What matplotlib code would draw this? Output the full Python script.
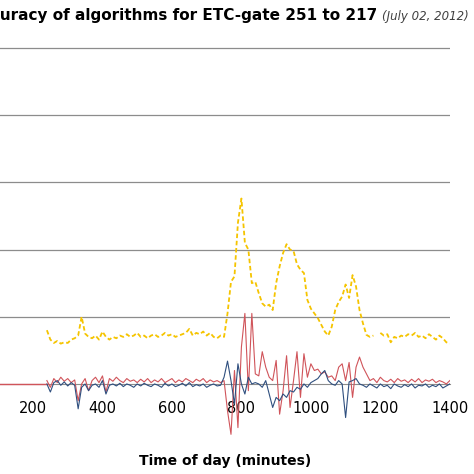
import numpy as np
import matplotlib
matplotlib.use("Agg")
import matplotlib.pyplot as plt

start, step = 240, 10
yellow = [0.80,0.66,0.61,0.64,0.60,0.62,0.61,0.66,0.68,0.72,
          1.00,0.75,0.70,0.68,0.72,0.66,0.78,0.70,0.66,0.70,
          0.68,0.72,0.70,0.74,0.70,0.72,0.76,0.70,0.72,0.68,
          0.72,0.74,0.70,0.72,0.76,0.72,0.74,0.70,0.72,0.74,
          0.76,0.82,0.72,0.76,0.74,0.78,0.72,0.76,0.70,0.68,
          0.72,0.70,1.05,1.52,1.60,2.40,2.76,2.10,2.00,1.50,
          1.52,1.35,1.20,1.15,1.18,1.10,1.50,1.75,1.95,2.08,
          2.00,1.98,1.78,1.70,1.65,1.25,1.12,1.05,0.98,0.88,
          0.78,0.72,0.85,1.10,1.22,1.30,1.48,1.28,1.62,1.45,
          1.10,0.90,0.73,0.70,0.72,np.nan,0.76,0.72,0.74,0.62,
          0.70,0.68,0.72,0.70,0.74,0.72,0.76,0.70,0.72,0.68,
          0.74,0.70,0.66,0.72,0.68,0.62,0.60]
red = [0.05,-0.05,0.08,0.02,0.10,0.04,0.08,0.02,0.06,-0.25,
       0.00,0.08,-0.10,0.05,0.10,0.02,0.12,-0.12,0.08,0.04,
       0.10,0.05,0.02,0.08,0.04,0.06,0.02,0.07,0.03,0.08,
       0.02,0.06,0.03,0.08,0.02,0.05,0.08,0.02,0.06,0.03,
       0.08,0.05,0.02,0.07,0.04,0.08,0.02,0.06,0.03,0.05,
       0.02,0.05,-0.40,-0.75,0.20,-0.65,0.55,1.05,-0.10,1.05,
       0.15,0.12,0.48,0.25,0.10,0.05,0.35,-0.45,-0.10,0.42,
       -0.35,0.05,0.48,-0.20,0.45,0.10,0.30,0.20,0.22,0.15,
       0.18,0.10,0.12,0.05,0.25,0.30,0.05,0.32,-0.20,0.25,
       0.40,0.25,0.15,0.05,0.08,0.02,0.10,0.05,0.03,0.07,
       0.02,0.08,0.04,0.06,0.02,0.07,0.03,0.08,0.02,0.06,
       0.04,0.07,0.02,0.05,0.03,0.00,0.05]
blue = [0.00,-0.12,0.02,0.05,-0.02,0.03,-0.03,0.02,-0.02,-0.37,
        -0.05,0.00,-0.10,-0.02,0.00,-0.05,0.05,-0.15,-0.02,0.00,
        -0.03,0.01,-0.04,0.00,-0.02,-0.05,0.00,-0.03,0.01,-0.02,
        -0.04,0.00,-0.02,-0.05,0.01,-0.03,0.00,-0.04,-0.02,0.01,
        -0.03,0.02,-0.04,-0.01,-0.03,0.00,-0.05,-0.02,0.00,-0.03,
        -0.02,0.10,0.34,0.05,-0.30,0.30,0.00,-0.15,0.10,0.00,
        0.02,0.00,-0.05,0.05,-0.15,-0.35,-0.20,-0.25,-0.15,-0.20,
        -0.10,-0.12,-0.05,-0.08,0.00,-0.05,0.02,0.05,0.08,0.15,
        0.20,0.05,0.00,-0.02,0.05,0.00,-0.50,0.03,0.05,0.08,
        0.00,-0.02,-0.05,0.00,-0.03,-0.06,0.00,-0.04,-0.02,-0.07,
        0.00,-0.03,-0.05,-0.01,-0.04,0.00,-0.06,-0.02,-0.03,0.00,
        -0.05,-0.02,-0.04,0.00,-0.06,-0.03,0.00]
xticks = [200, 400, 600, 800, 1000, 1200, 1400]

x = start + step * np.arange(len(yellow))

fig = plt.figure(figsize=(4.74, 4.74), dpi=100)
ax = fig.add_axes([0.0, 0.061, 0.949, 0.876])
ax.set_xlim(105, 1400)
ax.set_ylim(-0.91, 5.27)
for g in [1, 2, 3, 4, 5]:
    ax.axhline(g, color="#8c8c8c", lw=0.9, zorder=0)
ax.plot([105, start], [0, 0], color="#d0545a", lw=1.0)
ax.plot(x, yellow, color="#f5c400", lw=1.3, ls=(0, (2.5, 1.5)))
ax.plot(x, red, color="#d0545a", lw=0.8)
ax.plot(x, blue, color="#2f4f7f", lw=0.8)
for k in ["top", "left", "right"]:
    ax.spines[k].set_visible(False)
ax.spines["bottom"].set_position(("data", 0))
ax.spines["bottom"].set_color("#8c8c8c")
ax.spines["bottom"].set_zorder(0)
ax.set_yticks([])
ax.set_xticks(xticks)
ax.tick_params(axis="x", length=0, labelsize=10.5, pad=12)

fig.canvas.draw()
r = fig.canvas.get_renderer()
fs = 11
t0 = fig.text(0, 0, "Acc", fontsize=fs, fontweight="bold", family="Liberation Sans Narrow")
w0 = t0.get_window_extent(r).width
t0.remove()
t1 = fig.text(-w0 / 474, 0.958, "Accuracy of algorithms for ETC-gate 251 to 217",
              fontsize=fs, fontweight="bold", family="Liberation Sans Narrow", va="baseline")
e1 = t1.get_window_extent(r)
fig.text((e1.x1 + 4) / 474, 0.958, "(July 02, 2012)", fontsize=8.5, style="italic",
         color="#404040", family="Liberation Sans Narrow", va="baseline")
fig.text(0.475, 0.012, "Time of day (minutes)", fontsize=10, fontweight="bold",
         ha="center", va="bottom", family="Liberation Sans Narrow")
fig.savefig("out.png", dpi=100)
